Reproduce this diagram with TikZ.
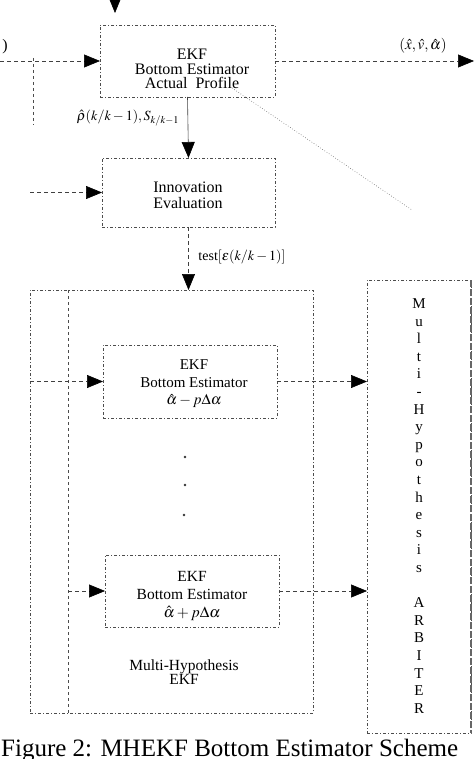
\documentclass[tikz,border=0pt]{standalone}
\usepackage{mathptmx}
\usepackage{fontspec}
\setmainfont{Liberation Serif}
\usetikzlibrary{arrows.meta}
\begin{document}
\begin{tikzpicture}[x=1pt,y=-1pt,
  frame/.style={draw=black!70, line width=0.6pt, dash pattern=on 3pt off 2pt on 1pt off 2pt, inner sep=0pt, outer sep=0pt},
  conn/.style={draw=black!75, line width=0.6pt, dash pattern=on 4pt off 3pt, -{Triangle[length=16pt,width=13pt,black]}},
  plainline/.style={draw=black!70, line width=0.6pt, dash pattern=on 3pt off 3pt},
  txt/.style={align=center, inner sep=0pt},
  lbl/.style={inner sep=0pt, font=\fontsize{14}{14}\selectfont}
]
\useasboundingbox (0,0) rectangle (474,759);

% boxes
\node[frame, minimum width=175pt, minimum height=72pt] (b1) at (187.5,61) {};
\node[frame, minimum width=173pt, minimum height=69pt] (b2) at (188.5,192.5) {};
\node[frame, minimum width=174pt, minimum height=73pt] (b3) at (190,381.5) {};
\node[frame, minimum width=174pt, minimum height=72pt] (b4) at (192,591) {};
\node[frame, minimum width=283pt, minimum height=423pt] (mh) at (171.5,501.5) {};
\node[frame, minimum width=104pt, minimum height=453pt] (arb) at (419,506.5) {};
\draw[draw=black!60, line width=1.4pt, dash pattern=on 7pt off 2pt] (arb.north east) -- (arb.south east);

% texts
\node[txt, font=\fontsize{16}{14.5}\selectfont] (t1) at (192,69) {EKF\\Bottom Estimator\\Actual\ \ Profile};
\node[txt, font=\fontsize{16}{16}\selectfont] (t2) at (188,195) {Innovation\\Evaluation};
\node[txt, font=\fontsize{15}{17.5}\selectfont] (t3) at (194,384) {EKF\\Bottom Estimator\\$\hat{\alpha}-p\Delta\alpha$};
\node[txt, font=\fontsize{15.5}{18}\selectfont] (t4) at (192,596) {EKF\\Bottom Estimator\\$\hat{\alpha}+p\Delta\alpha$};
\node[txt, font=\fontsize{15.5}{14}\selectfont] (t5) at (184,672) {Multi-Hypothesis\\EKF};
\node[txt, font=\fontsize{15}{17.6}\selectfont] (t6) at (419,506) {M\\u\\l\\t\\i\\-\\H\\y\\p\\o\\t\\h\\e\\s\\i\\s\\\mbox{}\\A\\R\\B\\I\\T\\E\\R};

% labels
\node[lbl, font=\fontsize{15}{15}\selectfont] (lout) at (423,46) {$\left(\hat{x},\hat{v},\hat{\alpha}\right)$};
\node[lbl, font=\fontsize{16}{16}\selectfont] (lpar) at (5,47) {)};
\node[lbl] (lrho) at (128,118) {$\hat{\rho}(k/k-1),S_{k/k-1}$};
\node[lbl] (ltest) at (242,257) {test$\left[\varepsilon(k/k-1)\right]$};
\node[anchor=base west, inner sep=0pt, font=\fontsize{25}{25}\selectfont] (cap) at (1,756) {Figure 2: MHEKF Bottom Estimator Scheme};

% coordinates
\coordinate (topa) at (115,-3);
\coordinate (topb) at (115,13);
\coordinate (in1) at (0,61);
\coordinate (out1) at (474,61);
\coordinate (v1a) at (33,58);
\coordinate (v1b) at (33,125);
\coordinate (in2) at (30,192.5);
\coordinate (ia) at (68,290);
\coordinate (ib) at (68,713);
\coordinate (d1) at (232,88);
\coordinate (d2) at (412,210);

% connectors
\draw[conn] (topa) -- (topb);
\draw[conn] (in1) -- (b1.west);
\draw[conn] (b1.east) -- (out1);
\draw[plainline] (v1a) -- (v1b);
\draw[conn, solid] (b1.south) -- (b2.north);
\draw[conn] (in2) -- (b2.west);
\draw[conn] (b2.south) -- (b2.south |- mh.north);
\draw[plainline] (ia) -- (ib);
\draw[conn] (mh.west |- b3.west) -- (b3.west);
\draw[conn] (ia |- b4.west) -- (b4.west);
\draw[conn] (b3.east) -- (b3.east -| arb.west);
\draw[conn] (b4.east) -- (b4.east -| arb.west);
\draw[draw=black!60, line width=0.6pt, dotted] (d1) -- (d2);

% continuation dots
\fill[black!80] (185,457) circle (1.3);
\fill[black!80] (185,485) circle (1.3);
\fill[black!80] (184,515) circle (1.3);
\end{tikzpicture}
\end{document}
